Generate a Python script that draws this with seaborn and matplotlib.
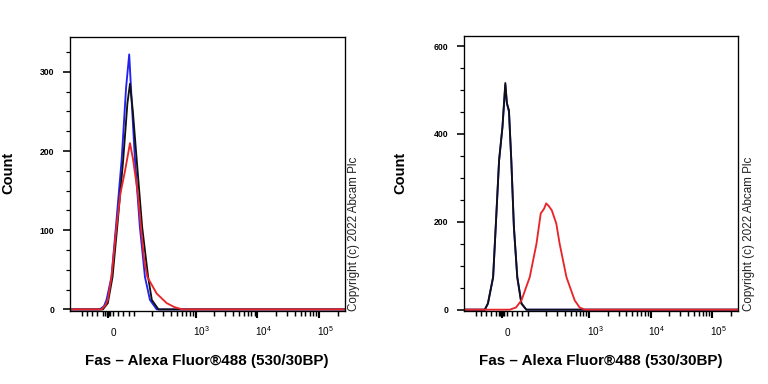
import matplotlib
matplotlib.use("Agg")
import matplotlib.pyplot as plt
import matplotlib.transforms as mtrans
import seaborn as sns
import pandas as pd

sns.set_style("ticks")
plt.rcParams['font.family'] = ['Liberation Sans', 'DejaVu Sans']
plt.rcParams['text.color'] = 'black'
plt.rcParams['xtick.color'] = 'black'
plt.rcParams['ytick.color'] = 'black'
plt.rcParams['mathtext.fontset'] = 'custom'
plt.rcParams['mathtext.rm'] = 'Liberation Sans'
plt.rcParams['mathtext.it'] = 'Liberation Sans:italic'
plt.rcParams['mathtext.bf'] = 'Liberation Sans:bold'

# left panel (fluorescence value, count)
left_blue_x = [-155, -31, -15, -5, 14, 31, 53, 70, 82, 92, 104, 125, 151, 182, 234, 262144]
left_blue_y = [0, 0, 4, 12, 41, 104, 189, 280, 322, 260, 189, 104, 41, 12, 0, 0]
left_black_x = [-155, -19, 0, 18, 36, 59, 75, 85, 96, 111, 136, 170, 195, 250, 262144]
left_black_y = [0, 0, 8, 41, 104, 189, 260, 285, 250, 189, 104, 41, 12, 0, 0]
left_red_x = [-155, -24, -10, 0, 14, 33, 48, 66, 85, 97, 116, 130, 147, 165, 234, 339, 450, 610, 262144]
left_red_y = [0, 0, 5, 12, 41, 104, 146, 175, 210, 189, 146, 104, 62, 41, 20, 8, 3, 0, 0]

# right panel
right_blue_x = [-155, -65, -53, -33, -23, -10, 3, 14, 20, 28, 37, 47, 60, 76, 95, 262144]
right_blue_y = [0, 0, 14, 74, 188, 340, 416, 512, 470, 450, 340, 188, 74, 14, 0, 0]
right_black_x = [-155, -65, -53, -33, -23, -10, 3, 14, 20, 28, 37, 47, 60, 76, 95, 262144]
right_black_y = [0, 0, 14, 74, 188, 340, 416, 516, 470, 454, 340, 188, 74, 14, 0, 0]
right_red_x = [-155, 31, 55, 76, 108, 139, 163, 185, 200, 220, 247, 292, 331, 427, 582, 700, 851, 262144]
right_red_y = [0, 0, 5, 21, 74, 150, 219, 230, 242, 236, 226, 196, 150, 74, 21, 5, 0, 0]

x_ticks = [0, 1e3, 1e4, 1e5]
x_tick_labels = ['0', '$10^3$', '$10^4$', '$10^5$']
x_label = "Fas \u2013 Alexa Fluor\u00ae488 (530/30BP)"
copyright_text = "Copyright (c) 2022 Abcam Plc"

BLUE = "#2222ee"
BLACK = "#111111"
RED = "#e8262a"

fig = plt.figure(figsize=(8, 4), dpi=96)
ax1 = fig.add_axes([70/768, 1-311/384, 275/768, 274/384])
ax2 = fig.add_axes([464/768, 1-311/384, 274/768, 275/384])

panels = [
    (ax1, [(left_blue_x, left_blue_y, BLUE), (left_black_x, left_black_y, BLACK), (left_red_x, left_red_y, RED)],
     (-2, 344), [0, 100, 200, 300], 25),
    (ax2, [(right_blue_x, right_blue_y, BLUE), (right_black_x, right_black_y, BLACK), (right_red_x, right_red_y, RED)],
     (-3, 623), [0, 200, 400, 600], 50),
]

minor_x = list(range(-100, 101, 20)) + [-10, -5, 5, 10]
for dec in [100, 1000, 10000]:
    minor_x += [k * dec for k in range(2, 10)]
minor_x += [2e5]

for ax, curves, ylim, yticks, ystep in panels:
    for xs, ys, c in curves:
        df = pd.DataFrame({'x': xs, 'y': ys})
        sns.lineplot(data=df, x='x', y='y', ax=ax, color=c, lw=1.4, sort=False)
    ax.set_xscale('symlog', linthresh=100, linscale=0.38)
    ax.set_xlim(-155, 262144)
    ax.set_ylim(*ylim)
    ax.set_xticks(x_ticks)
    ax.set_xticklabels(x_tick_labels)
    ax.set_xticks(minor_x, minor=True)
    ax.set_yticks(yticks)
    ax.set_yticks(list(range(0, int(ylim[1]), ystep)), minor=True)
    ax.set_xlabel('')
    ax.set_ylabel('')
    for s in ax.spines.values():
        s.set_visible(True)
        s.set_color('black')
        s.set_linewidth(1.0)
    ax.tick_params(axis='x', which='major', length=5, width=1.6, pad=14, labelsize=7.5)
    ax.tick_params(axis='x', which='minor', length=3.5, width=1.1)
    ax.tick_params(axis='y', which='major', length=5, width=1.2, pad=7, labelsize=6.5)
    ax.tick_params(axis='y', which='minor', length=3, width=0.9)
    shift = mtrans.ScaledTranslation(6/96, 0, fig.dpi_scale_trans)
    for lab in ax.get_xticklabels():
        lab.set_va('baseline')
        lab.set_transform(lab.get_transform() + shift)
    for lab in ax.get_yticklabels():
        lab.set_fontweight('bold')

for cx, lx, ax in [(207/768, 8/768, ax1), (601/768, 400/768, ax2)]:
    fig.text(cx, 1-361/384, x_label, ha='center', va='center', fontsize=11.3, fontweight='bold')
    fig.text(lx, 1-173/384, 'Count', ha='center', va='center', rotation=90, fontsize=11, fontweight='bold')

fig.text(354/768, 1-311/384, copyright_text, rotation=90, ha='center', va='bottom', fontsize=8.7, color='#222222')
fig.text(749/768, 1-311/384, copyright_text, rotation=90, ha='center', va='bottom', fontsize=8.7, color='#222222')

fig.savefig('out.png', dpi=96)
